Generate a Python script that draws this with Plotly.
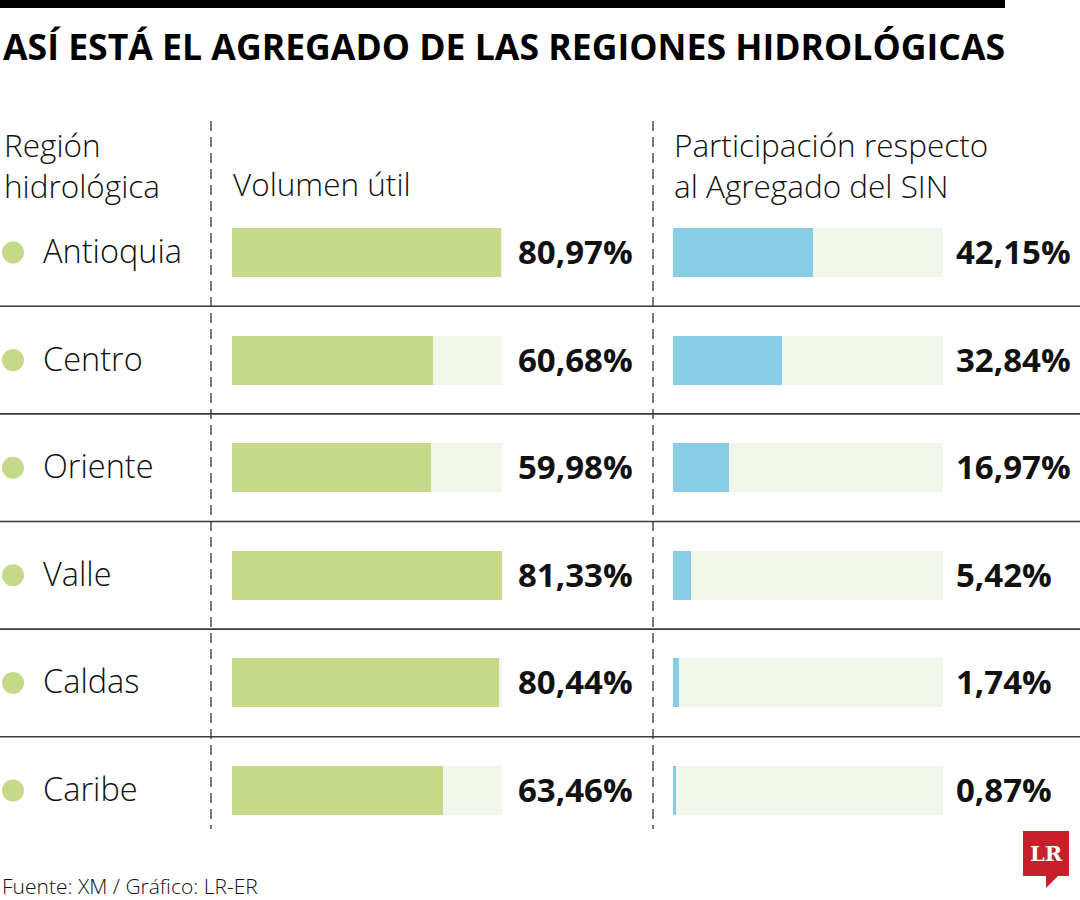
import plotly.graph_objects as go

# ---- data ----
regiones = ["Antioquia", "Centro", "Oriente", "Valle", "Caldas", "Caribe"]
volumen_util = [80.97, 60.68, 59.98, 81.33, 80.44, 63.46]
participacion = [42.15, 32.84, 16.97, 5.42, 1.74, 0.87]

title_text = "ASÍ ESTÁ EL AGREGADO DE LAS REGIONES HIDROLÓGICAS"
header_region = "Región<br>hidrológica"
header_vol = "Volumen útil"
header_part = "Participación respecto<br>al Agregado del SIN"
source_text = "Fuente: XM / Gráfico: LR-ER"

W, H = 1080, 900
GREEN = "#c6d988"
BG = "#f0f6e9"
BLUE = "#86cde5"
TXT = "#111111"
LIGHT = "Open Sans"

def px(x):
    return x / W

def py(y):
    return 1 - y / H

def fmt(v):
    return f"{v:.2f}".replace(".", ",") + "%"

full = max(volumen_util)
n = len(regiones)
row_top = 252.5     # pixel centre of first row
pitch = 107.6       # pixel distance between rows
y0 = (H - row_top) / pitch
y1 = -row_top / pitch
bw = 49 / pitch

fig = go.Figure()

# background bars
fig.add_trace(go.Bar(y=regiones, x=[full] * n, orientation="h", width=bw,
                     marker=dict(color=BG, line=dict(width=0)),
                     xaxis="x", yaxis="y", hoverinfo="skip"))
fig.add_trace(go.Bar(y=regiones, x=[full] * n, orientation="h", width=bw,
                     marker=dict(color=BG, line=dict(width=0)),
                     xaxis="x2", yaxis="y", hoverinfo="skip"))
# value bars
fig.add_trace(go.Bar(y=regiones, x=volumen_util, orientation="h", width=bw,
                     marker=dict(color=GREEN, line=dict(width=0)),
                     xaxis="x", yaxis="y"))
fig.add_trace(go.Bar(y=regiones, x=participacion, orientation="h", width=bw,
                     marker=dict(color=BLUE, line=dict(width=0)),
                     xaxis="x2", yaxis="y"))
# dots
fig.add_trace(go.Scatter(y=regiones, x=[13] * n, mode="markers",
                         marker=dict(size=22, color=GREEN, line=dict(width=0)),
                         xaxis="x3", yaxis="y", hoverinfo="skip"))

ann = []
# title
ann.append(dict(x=px(1), y=py(46), xref="paper", yref="paper", text=title_text,
                showarrow=False, xanchor="left", yanchor="middle",
                font=dict(family="Open Sans", size=35.6, color="#000", weight=700)))
# headers
hdr = dict(family=LIGHT, size=31.5, color=TXT, weight=300)
ann.append(dict(x=px(2), y=py(165), xref="paper", yref="paper", text=header_region,
                showarrow=False, xanchor="left", yanchor="middle", align="left", font=hdr))
ann.append(dict(x=px(231), y=py(183), xref="paper", yref="paper", text=header_vol,
                showarrow=False, xanchor="left", yanchor="middle", align="left", font=hdr))
ann.append(dict(x=px(672), y=py(165), xref="paper", yref="paper", text=header_part,
                showarrow=False, xanchor="left", yanchor="middle", align="left", font=hdr))
# region names and values
for r, v, p in zip(regiones, volumen_util, participacion):
    ann.append(dict(x=px(41), y=r, xref="paper", yref="y", text=r, showarrow=False,
                    xanchor="left", yanchor="middle", yshift=2,
                    font=dict(family=LIGHT, size=32.5, color=TXT, weight=300)))
    ann.append(dict(x=px(516), y=r, xref="paper", yref="y", text=fmt(v), showarrow=False,
                    xanchor="left", yanchor="middle", yshift=1,
                    font=dict(family="Open Sans", size=33, color=TXT, weight=700)))
    ann.append(dict(x=px(954), y=r, xref="paper", yref="y", text=fmt(p), showarrow=False,
                    xanchor="left", yanchor="middle", yshift=1,
                    font=dict(family="Open Sans", size=33, color=TXT, weight=700)))
# source
ann.append(dict(x=px(0), y=py(886), xref="paper", yref="paper", text=source_text,
                showarrow=False, xanchor="left", yanchor="middle",
                font=dict(family=LIGHT, size=21, color=TXT, weight=300)))
# logo text
ann.append(dict(x=px(1046), y=py(853), xref="paper", yref="paper", text="<b>LR</b>",
                showarrow=False, xanchor="center", yanchor="middle",
                font=dict(family="DejaVu Serif", size=21, color="white")))

shapes = []
# top black bar
shapes.append(dict(type="rect", xref="paper", yref="paper", x0=0, x1=px(1005),
                   y0=py(0), y1=py(8), fillcolor="#000", line=dict(width=0), layer="above"))
# row separators
for i in range(n - 1):
    shapes.append(dict(type="line", xref="paper", yref="y", x0=0, x1=1,
                       y0=i + 0.5, y1=i + 0.5, line=dict(color="#3a3a3a", width=1.6)))
# dashed dividers
for x in (211, 653):
    shapes.append(dict(type="line", xref="paper", yref="paper", x0=px(x), x1=px(x),
                       y0=py(121), y1=py(829),
                       line=dict(color="#333", width=1.3, dash="10px,6px")))
# logo bubble
shapes.append(dict(type="path", xref="paper", yref="paper",
                   path=(f"M {px(1023)},{py(831)} L {px(1069)},{py(831)} L {px(1069)},{py(876)} "
                         f"L {px(1058)},{py(876)} L {px(1046)},{py(888)} L {px(1046)},{py(876)} "
                         f"L {px(1023)},{py(876)} Z"),
                   fillcolor="#c8202b", line=dict(width=0)))

ax_off = dict(visible=False, showgrid=False, zeroline=False, fixedrange=True)
fig.update_layout(
    width=W, height=H, margin=dict(l=0, r=0, t=0, b=0),
    paper_bgcolor="white", plot_bgcolor="rgba(0,0,0,0)",
    barmode="overlay", showlegend=False, bargap=0,
    xaxis=dict(domain=[px(232), px(502)], range=[0, full], anchor="y", **ax_off),
    xaxis2=dict(domain=[px(673), px(943)], range=[0, full], anchor="y", **ax_off),
    xaxis3=dict(domain=[0, 1], range=[0, W], anchor="y", **ax_off),
    yaxis=dict(domain=[0, 1], range=[y0, y1], type="category",
               categoryorder="array", categoryarray=regiones, **ax_off),
    annotations=ann, shapes=shapes,
)

fig.write_html("out.html")
